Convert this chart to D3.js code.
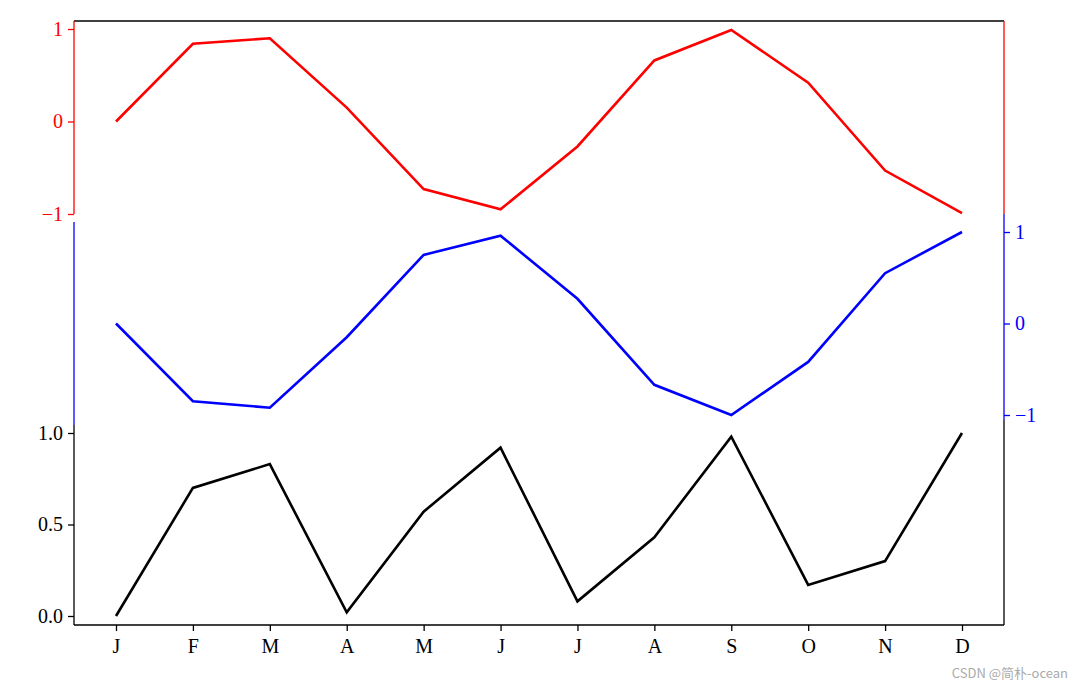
<!DOCTYPE html>
<html><head><meta charset="utf-8">
<script src="https://cdn.jsdelivr.net/npm/d3@7"></script>
<style>body{margin:0;background:#fff}text{font-family:"Liberation Serif","Times New Roman",serif}</style>
</head><body><svg id="c" width="1073" height="691"></svg>
<script>
const months=["J","F","M","A","M","J","J","A","S","O","N","D"];
const redVals=[0,0.84,0.90,0.15,-0.73,-0.95,-0.27,0.66,0.99,0.42,-0.53,-0.99];
const blueVals=[0,-0.85,-0.92,-0.15,0.75,0.96,0.27,-0.67,-1.0,-0.42,0.55,1.0];
const blackVals=[0,0.70,0.83,0.02,0.57,0.92,0.08,0.43,0.98,0.17,0.30,1.0];
const redTicks=[-1,0,1],blueTicks=[-1,0,1],blackTicks=[0,0.5,1.0];
const svg=d3.select("#c");
const L=74,R=1004,T=21,B=625;
const x=d3.scalePoint().domain(d3.range(12)).range([116,962]);
const yR=d3.scaleLinear().domain([-1,1]).range([214,29]);
const yB=d3.scaleLinear().domain([-1,1]).range([415,232]);
const yK=d3.scaleLinear().domain([0,1]).range([616,433]);
const fmtM=v=>(v<0?"\u2212":"")+Math.abs(v);
function line(vals,y,c){svg.append("path").datum(vals).attr("fill","none").attr("stroke",c).attr("stroke-width",2.6)
 .attr("d",d3.line().x((d,i)=>x(i)).y(d=>y(d)));}
line(redVals,yR,"red");line(blueVals,yB,"blue");line(blackVals,yK,"black");
function spine(x0,y0,x1,y1,c){svg.append("line").attr("x1",x0).attr("y1",y0).attr("x2",x1).attr("y2",y1).attr("stroke",c).attr("stroke-width",1.3);}
spine(L,T,R,T,"black");spine(L,B,R,B,"black");
spine(L,T,L,214,"red");spine(L,222,L,425,"blue");spine(L,425,L,B,"black");
spine(R,T,R,214,"red");spine(R,214,R,420,"blue");spine(R,420,R,B,"black");
function yaxis(sc,ticks,c,fmt,right){
 const a=(right?d3.axisRight(sc):d3.axisLeft(sc)).tickValues(ticks).tickSize(6).tickPadding(5).tickFormat(fmt);
 const g=svg.append("g").attr("transform",`translate(${right?R:L},0)`).call(a);
 g.select(".domain").remove();
 g.selectAll("line").attr("stroke",c).attr("stroke-width",1.3);
 g.selectAll("text").attr("fill",c).style("font-size","20px").style("font-family","Liberation Serif");
}
yaxis(yR,redTicks,"red",fmtM,false);
yaxis(yB,blueTicks,"blue",fmtM,true);
yaxis(yK,blackTicks,"black",d3.format(".1f"),false);
const gx=svg.append("g").attr("transform",`translate(0,${B})`).call(d3.axisBottom(x).tickSize(6).tickPadding(8).tickFormat(i=>months[i]));
gx.select(".domain").remove();
gx.selectAll("line").attr("stroke","black").attr("stroke-width",1.3);
gx.selectAll("text").attr("fill","black").style("font-size","20px").style("font-family","Liberation Serif");
svg.append("text").attr("x",1068).attr("y",678).attr("text-anchor","end").attr("fill","#aaa")
 .style("font-family","'Noto Sans CJK SC',sans-serif").style("font-size","13px").text("CSDN @简朴-ocean");
</script></body></html>
